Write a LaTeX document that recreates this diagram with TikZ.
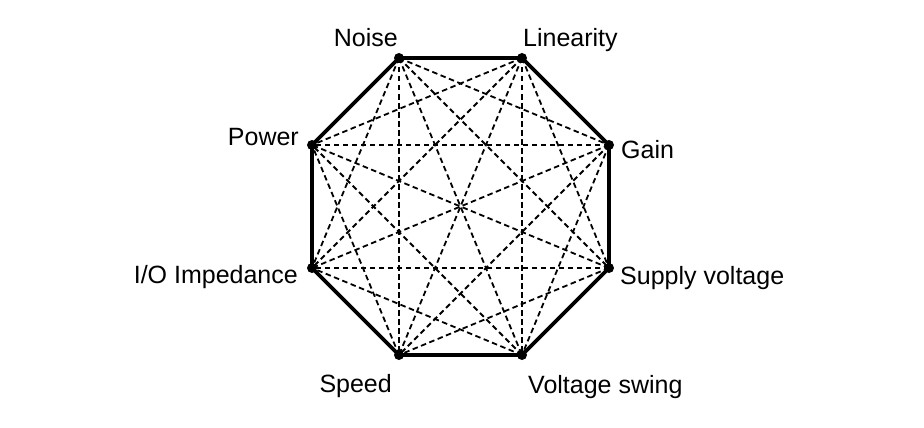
\documentclass[tikz,border=0pt]{standalone}
\usepackage{fontspec}
\setmainfont{Liberation Sans}
\usepackage{tikz}
\usetikzlibrary{positioning}

\tikzset{
  octedge/.style={line width=3.8pt,line join=bevel},
  diag/.style={line width=1.8pt,dash pattern=on 5.5pt off 3.5pt},
  lbl/.style={inner sep=0pt,font=\fontsize{25}{30}\selectfont},
}

\begin{document}
\begin{tikzpicture}[x=1pt,y=-1pt]
		
		\useasboundingbox (0,0) rectangle (924,428);
		
		% Corners of the octagon
		\coordinate (noise) at (399,58);
		\coordinate (lin) at (522,58);
		\coordinate (gain) at (609,145);
		\coordinate (supply) at (609,268);
		\coordinate (swing) at (522,355);
		\coordinate (speed) at (399,355);
		\coordinate (imp) at (312,268);
		\coordinate (power) at (312,145);
		
		% Trade-offs
		\foreach \a/\b in {noise/gain,noise/supply,noise/swing,noise/speed,noise/imp,
			lin/supply,lin/swing,lin/speed,lin/imp,lin/power,
			gain/swing,gain/speed,gain/imp,gain/power,
			supply/speed,supply/imp,supply/power,
			swing/imp,swing/power,speed/power}
		\draw[diag] (\a)--(\b);
		
		% Outline
		\draw[octedge] (noise)--(lin)--(gain)--(supply)--(swing)--(speed)--(imp)--(power)--cycle;
		
		\foreach \v in {noise,lin,gain,supply,swing,speed,imp,power}
		\fill (\v) circle (5pt);
		
		% Labels
		\node[lbl,anchor=base east,xshift=-1pt,yshift=11pt] (noiselbl) at (noise) {Noise};
		\node[lbl,anchor=base west,xshift=1pt,yshift=11pt] (linlbl) at (lin) {Linearity};
		\node[lbl,anchor=base west,xshift=12pt,yshift=-13pt] (gainlbl) at (gain) {Gain};
		\node[lbl,anchor=base west,xshift=11pt,yshift=-16pt] (supplylbl) at (supply) {Supply voltage};
		\node[lbl,anchor=base west,xshift=6pt,yshift=-38pt] (swinglbl) at (swing) {Voltage swing};
		\node[lbl,anchor=base east,xshift=-7pt,yshift=-37pt] (speedlbl) at (speed) {Speed};
		\node[lbl,anchor=base east,xshift=-14pt,yshift=-15pt] (implbl) at (imp) {I/O Impedance};
		\node[lbl,anchor=base east,xshift=-13pt,yshift=0pt] (powerlbl) at (power) {Power};
		
	\end{tikzpicture}
\end{document}
